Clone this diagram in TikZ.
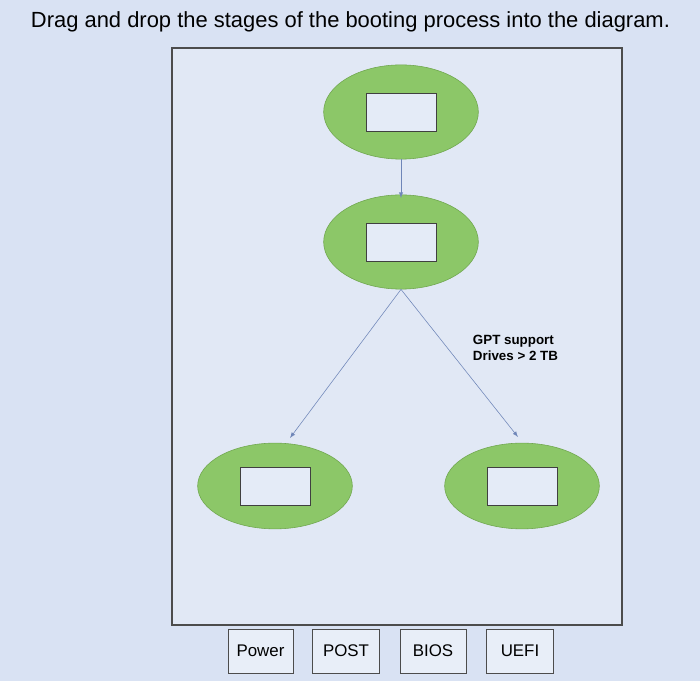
\documentclass[tikz,border=0pt]{standalone}
\usepackage{fontspec}
\setmainfont{Liberation Sans}
\definecolor{bgblue}{HTML}{D9E2F3}
\definecolor{stagegreen}{HTML}{8CC768}
\definecolor{stageedge}{HTML}{6FA64E}
\definecolor{linkblue}{HTML}{6F86B8}
\tikzset{
  stage/.style = {ellipse, fill = stagegreen, draw = stageedge, minimum width = 110pt, minimum height = 67pt, inner sep = 0pt},
  slot/.style = {draw = black!75, fill = bgblue!70!white, minimum width = 50pt, minimum height = 27pt, inner sep = 0pt},
  choice/.style = {draw = black!70, fill = bgblue!60!white, minimum height = 31pt, inner sep = 3pt, font = \fontsize{12}{14}\selectfont},
  link/.style = {draw = linkblue, -latex}
}
\usetikzlibrary{shapes.geometric}
\begin{document}
\begin{tikzpicture}[x = 0.025cm, y = -0.025cm]
    \fill [bgblue] (0, 0) rectangle (700, 681);
    \useasboundingbox (0, 0) rectangle (700, 681);
    \node [anchor = west, font = \fontsize{15.6}{18}\selectfont] (title) at (26, 22) {Drag and drop the stages of the booting process into the diagram.};
    \draw [black!70, fill = bgblue!80!white, line width = 0.8pt] (172, 48) rectangle (622, 625);

    \node [stage] (S1) at (401, 112) {};
    \node [stage] (S2) at (401, 242) {};
    \node [stage, minimum height = 61pt] (S3) at (275, 486) {};
    \node [stage, minimum height = 61pt] (S4) at (522, 486) {};
    \foreach \s in {S1, S2, S3, S4}
        \node [slot] at (\s) {};

    \coordinate (T2) at (401, 198);
    \coordinate (L3) at (290, 438);
    \coordinate (L4) at (518, 437);
    \draw [link] (S1.south) -- (T2);
    \draw [link] (S2.south) -- (L3);
    \draw [link] (S2.south) -- (L4);
    \node [anchor = west, align = left, font = \bfseries\fontsize{9.5}{11}\selectfont] (gpt) at (468, 348) {GPT support\\Drives > 2 TB};

    \node [choice, minimum width = 46pt] (power) at (260.5, 651) {Power};
    \node [choice, minimum width = 48pt] (post) at (346, 651) {POST};
    \node [choice, minimum width = 47pt] (bios) at (433, 651) {BIOS};
    \node [choice, minimum width = 48pt] (uefi) at (520, 651) {UEFI};
\end{tikzpicture}
\end{document}
